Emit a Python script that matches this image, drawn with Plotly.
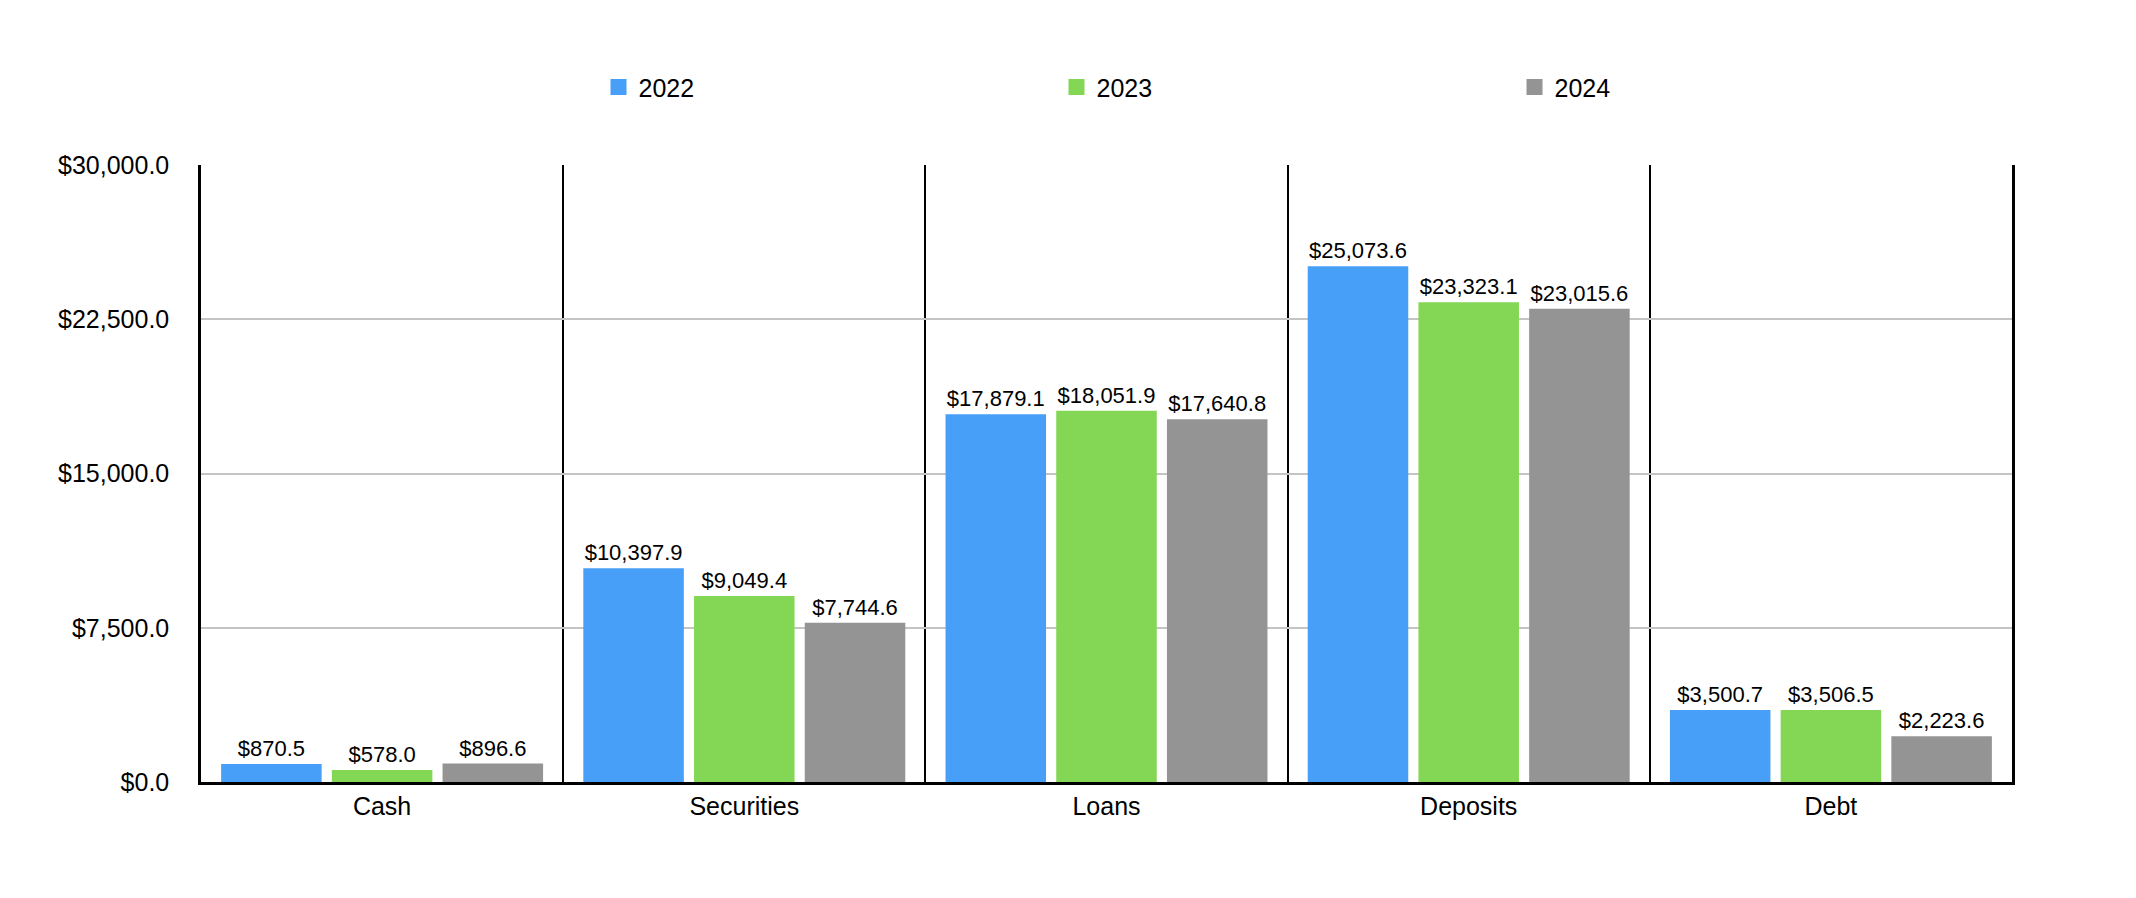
import plotly.graph_objects as go

categories = ["Cash", "Securities", "Loans", "Deposits", "Debt"]
years = ["2022", "2023", "2024"]
values_2022 = [870.5, 10397.9, 17879.1, 25073.6, 3500.7]
values_2023 = [578.0, 9049.4, 18051.9, 23323.1, 3506.5]
values_2024 = [896.6, 7744.6, 17640.8, 23015.6, 2223.6]
y_ticks = [0, 7500, 15000, 22500, 30000]
y_tick_labels = ["$" + f"{v:,.1f}" for v in y_ticks]

series = [values_2022, values_2023, values_2024]
colors = ["#489FF7", "#84D755", "#949494"]
FONT = "Liberation Sans, Arial, Helvetica, sans-serif"

fig = go.Figure()
for name, vals, col in zip(years, series, colors):
    fig.add_trace(go.Bar(
        x=categories, y=vals, name=name, marker_color=col, marker_line_width=0,
        texttemplate="$%{y:,.1f}", textposition="outside", cliponaxis=False,
        textfont=dict(size=22, color="black", family=FONT),
        showlegend=False,
    ))
    # legend proxy
    fig.add_trace(go.Scatter(
        x=[None], y=[None], mode="markers", name=name,
        marker=dict(symbol="square", size=16, color=col), showlegend=True,
    ))

fig.update_layout(
    width=2120, height=882,
    margin=dict(l=193, r=116, t=157, b=108),
    paper_bgcolor="white", plot_bgcolor="white",
    barmode="group", bargap=0.083, bargroupgap=0.092,
    font=dict(family=FONT, size=25, color="black"),
    legend=dict(orientation="h", x=0.2195, xanchor="left", y=1.126, yanchor="middle",
                entrywidth=413, entrywidthmode="pixels",
                font=dict(size=25, color="black", family=FONT), itemclick=False),
)
fig.update_xaxes(
    type="category", tickson="boundaries", showgrid=True, gridcolor="black", gridwidth=2,
    showline=True, linecolor="black", linewidth=2.5, mirror=False,
    ticks="", tickfont=dict(size=25, family=FONT, color="black"),
)
fig.update_yaxes(
    range=[0, 30000], tickvals=y_ticks, ticktext=y_tick_labels,
    showgrid=True, gridcolor="#C4C4C4", gridwidth=1.5, zeroline=False,
    showline=True, linecolor="black", linewidth=2.5, mirror=True,
    ticks="outside", ticklen=24, tickcolor="rgba(0,0,0,0)",
    tickfont=dict(size=25, family=FONT, color="black"),
)
fig.write_html("out.html")
